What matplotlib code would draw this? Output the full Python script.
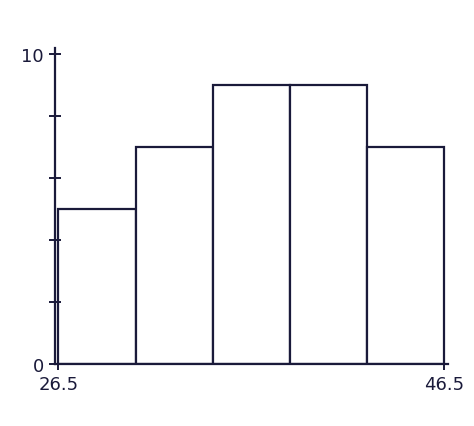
import matplotlib.pyplot as plt
import numpy as np

edges = [26.5, 30.5, 34.5, 38.5, 42.5, 46.5]
heights = [5, 7, 9, 9, 7]

fig = plt.figure(figsize=(4.74, 4.27), dpi=100)
ax = fig.add_axes([0.115, 0.145, 0.83, 0.74])
ax.bar(edges[:-1], heights, width=np.diff(edges), align='edge',
       color='white', edgecolor='#1a1a3a', linewidth=1.6)
ax.set_xlim(26.3, 46.7)
ax.set_ylim(0, 10.2)
ax.set_xticks([26.5, 46.5])
ax.set_xticklabels(['26.5', '46.5'], fontsize=13)
ax.set_yticks([0, 2, 4, 6, 8, 10])
ax.set_yticklabels(['0', '', '', '', '', '10'], fontsize=13)
ax.spines['top'].set_visible(False)
ax.spines['right'].set_visible(False)
for s in ['left', 'bottom']:
    ax.spines[s].set_linewidth(1.6)
    ax.spines[s].set_color('#1a1a3a')
ax.tick_params(direction='inout', length=8, width=1.4, colors='#1a1a3a')
fig.savefig('out.png')
